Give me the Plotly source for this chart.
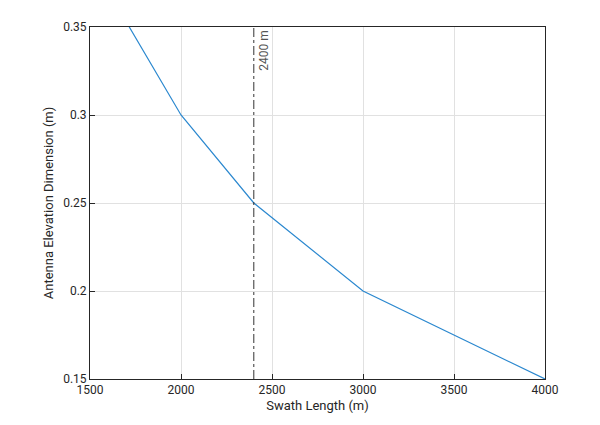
import plotly.graph_objects as go

swath = [1500, 2000, 2400, 3000, 4000]
elev = [0.388, 0.30, 0.25, 0.20, 0.15]
xline = 2400
xline_label = "2400 m"

fig = go.Figure()
fig.add_trace(go.Scatter(x=swath, y=elev, mode="lines", line=dict(color="#2b88cf", width=1.2), showlegend=False))
fig.add_shape(type="line", x0=xline, x1=xline, y0=0, y1=1, yref="paper", xref="x",
              line=dict(color="#333333", width=1, dash="dashdot"))
fig.add_annotation(x=xline, y=1, xref="x", yref="paper", text=xline_label, textangle=-90,
                   showarrow=False, xanchor="left", yanchor="top", xshift=1, yshift=-2,
                   font=dict(size=12, color="#555555"))
ax = dict(showline=True, mirror=True, linecolor="#262626", linewidth=1, ticks="inside", ticklen=5,
          tickcolor="#262626", gridcolor="#e1e1e1", zeroline=False, tickfont=dict(size=12, color="#262626"),
          title_font=dict(size=13, color="#262626"))
fig.update_xaxes(range=[1500, 4000], tickvals=[1500, 2000, 2500, 3000, 3500, 4000], title_text="Swath Length (m)", title_standoff=4, **ax)
fig.update_yaxes(range=[0.15, 0.35], tickvals=[0.15, 0.2, 0.25, 0.3, 0.35], ticktext=["0.15", "0.2", "0.25", "0.3", "0.35"],
                 title_text="Antenna Elevation Dimension (m)", title_standoff=6, **ax)
fig.update_layout(width=600, height=425, margin=dict(l=82, r=63, t=12, b=54),
                  plot_bgcolor="white", paper_bgcolor="white",
                  font=dict(family="Roboto, Arial, sans-serif"))
fig.write_html("out.html")
